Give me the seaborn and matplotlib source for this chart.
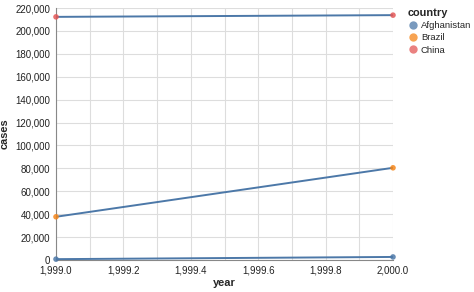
import numpy as np
import pandas as pd
import matplotlib
matplotlib.use("Agg")
import matplotlib.pyplot as plt
import seaborn as sns
from matplotlib.ticker import FuncFormatter, MultipleLocator

# data (tidyr table1)
countries = ["Afghanistan", "Afghanistan", "Brazil", "Brazil", "China", "China"]
years = [1999, 2000, 1999, 2000, 1999, 2000]
cases = [745, 2666, 37737, 80488, 212258, 213766]

palette = {"Afghanistan": "#4c78a8", "Brazil": "#f58518", "China": "#e45756"}

df = pd.DataFrame({"country": countries, "year": years, "cases": cases})

sns.set_style("white")
plt.rcParams["font.family"] = ["Liberation Sans", "DejaVu Sans"]

W, H = 474, 292
fig = plt.figure(figsize=(W / 100, H / 100), dpi=100)
x0, x1, y0, y1 = 56, 393, 8, 260
ax = fig.add_axes([x0 / W, (H - y1) / H, (x1 - x0) / W, (y1 - y0) / H])

sns.lineplot(data=df, x="year", y="cases", units="country", estimator=None,
             color="#4c78a8", linewidth=1.4, ax=ax, zorder=3)
sns.scatterplot(data=df, x="year", y="cases", hue="country", palette=palette,
                s=16, alpha=0.85, linewidth=0, ax=ax, zorder=4, clip_on=False,
                legend=False)

ax.set_xlim(1999, 2000)
ax.set_ylim(0, 220000)
ax.xaxis.set_major_locator(MultipleLocator(0.1))
ax.yaxis.set_major_locator(MultipleLocator(20000))
ax.xaxis.set_major_formatter(FuncFormatter(
    lambda v, p: f"{v:,.1f}" if round(v * 10) % 2 == 0 else ""))
ax.yaxis.set_major_formatter(FuncFormatter(lambda v, p: f"{v:,.0f}"))

ax.grid(True, color="#dddddd", linewidth=0.8)
ax.set_axisbelow(True)
for s in ["top", "right"]:
    ax.spines[s].set_visible(False)
for s in ["left", "bottom"]:
    ax.spines[s].set_color("#888888")
    ax.spines[s].set_linewidth(0.8)
ax.tick_params(axis="both", length=3, width=0.8, color="#888888",
               labelsize=7.0, labelcolor="#222222", pad=1, direction="out")

ax.set_xlabel("year", fontsize=7.9, fontweight="bold", labelpad=1.5)
ax.set_ylabel("cases", fontsize=7.9, fontweight="bold", labelpad=4)

handles = [plt.Line2D([], [], marker="o", linestyle="", markersize=6,
                      markerfacecolor=palette[c], markeredgewidth=0, alpha=0.75)
           for c in palette]
leg = fig.legend(handles, list(palette), title="country", frameon=False,
                 loc="upper left", bbox_to_anchor=(403 / W, 1 - 3 / H),
                 fontsize=6.8, title_fontproperties={"weight": "bold", "size": 7.9},
                 handletextpad=0.2, labelspacing=0.35, borderpad=0,
                 handlelength=1.2)
leg._legend_box.align = "left"

fig.savefig("out.png", dpi=100)
